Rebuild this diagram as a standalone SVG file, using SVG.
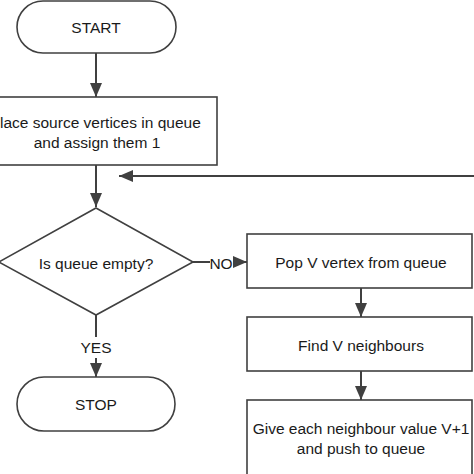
<svg xmlns="http://www.w3.org/2000/svg" width="474" height="474" viewBox="0 0 474 474">
<defs>
<style>
.shape{fill:#fff;stroke:#404040;stroke-width:1.6}
.line{fill:none;stroke:#404040;stroke-width:2}
text{font-family:"Liberation Sans",Arial,sans-serif;font-size:15.5px;fill:#1a1a1a;text-anchor:middle;dominant-baseline:central}
</style>
<marker id="ah" viewBox="0 0 14 12" refX="14" refY="6" markerWidth="7" markerHeight="6" markerUnits="strokeWidth" orient="auto">
<path d="M0,0 L14,6 L0,12 Z" fill="#404040"/>
</marker>
</defs>
<rect width="474" height="474" fill="#fff"/>
<g id="connectors">
<line class="line" x1="96" y1="53" x2="96" y2="97" marker-end="url(#ah)"/>
<line class="line" x1="96" y1="165" x2="96" y2="207" marker-end="url(#ah)"/>
<line class="line" x1="476" y1="176" x2="119" y2="176" marker-end="url(#ah)"/>
<line class="line" x1="193" y1="262" x2="210" y2="262"/>
<line class="line" x1="233" y1="262" x2="247" y2="262" marker-end="url(#ah)"/>
<line class="line" x1="96" y1="315" x2="96" y2="337"/>
<line class="line" x1="96" y1="358" x2="96" y2="377" marker-end="url(#ah)"/>
<line class="line" x1="361" y1="288" x2="361" y2="317" marker-end="url(#ah)"/>
<line class="line" x1="361" y1="371" x2="361" y2="400" marker-end="url(#ah)"/>
<text x="221" y="263">NO</text>
<text x="96" y="347">YES</text>
</g>
<g id="start">
<rect class="shape" x="17" y="1" width="159" height="52" rx="26" ry="26"/>
<text x="96" y="27">START</text>
</g>
<g id="place">
<rect class="shape" x="-2" y="97" width="219" height="68"/>
<text x="0" y="122" style="text-anchor:start">lace source vertices in queue</text>
<text x="97" y="142">and assign them 1</text>
</g>
<g id="decision">
<polygon class="shape" points="96,208 193,262 96,315 -1,262"/>
<text x="96" y="263">Is queue empty?</text>
</g>
<g id="stop">
<rect class="shape" x="17" y="377" width="158" height="54" rx="27" ry="27"/>
<text x="96" y="404">STOP</text>
</g>
<g id="pop">
<rect class="shape" x="247" y="234" width="225" height="54"/>
<text x="361" y="262">Pop V vertex from queue</text>
</g>
<g id="find">
<rect class="shape" x="247" y="317" width="225" height="54"/>
<text x="361" y="345">Find V neighbours</text>
</g>
<g id="give">
<rect class="shape" x="247" y="400" width="225" height="80"/>
<text x="361" y="428">Give each neighbour value V+1</text>
<text x="361" y="448">and push to queue</text>
</g>
</svg>
